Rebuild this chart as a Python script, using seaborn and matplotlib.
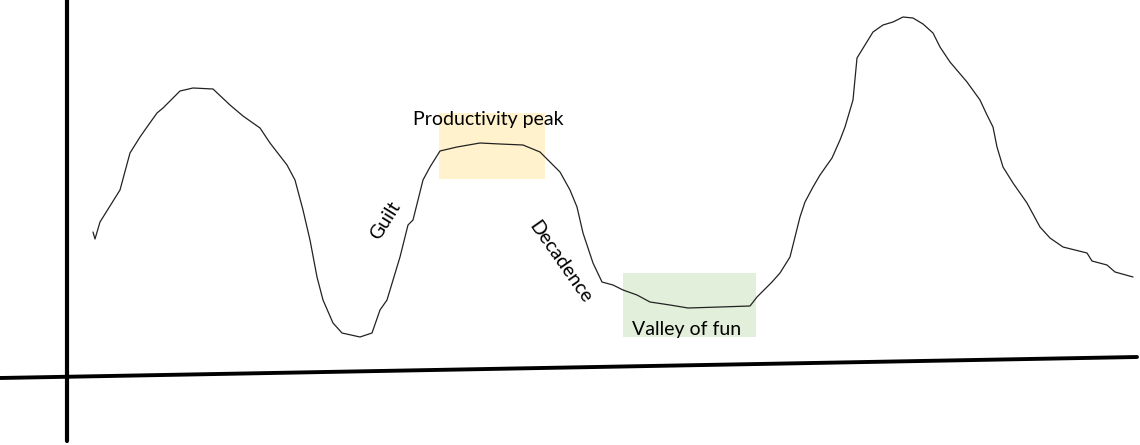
"""Hand-drawn style 'productivity cycle' sketch, redrawn with seaborn."""

import matplotlib

matplotlib.use("Agg")

import matplotlib.pyplot as plt  # noqa: E402
import pandas as pd  # noqa: E402
import seaborn as sns  # noqa: E402
from matplotlib.patches import Rectangle  # noqa: E402

# --- Data (in pixel space, y grows downward) -------------------------------

curve_x = [
    93, 95, 100, 120, 130, 140, 147, 157, 163, 180, 193, 213, 230, 243, 260,
    270, 287, 295, 303, 310, 317, 323, 333, 342, 360, 372, 380, 387, 400, 408,
    413, 418, 423, 430, 440, 457, 480, 500, 523, 540, 560, 570, 577, 583, 593,
    602, 613, 623, 637, 650, 670, 688, 720, 750, 757, 772, 780, 790, 795, 800,
    805, 813, 820, 832, 840, 845, 853, 857, 873, 883, 893, 903, 913, 923, 933,
    940, 950, 967, 980, 987, 993, 997, 1003, 1013, 1027, 1040, 1050, 1063,
    1087, 1092, 1107, 1115, 1133,
]
curve_y = [
    232, 239, 222, 190, 153, 137, 127, 113, 108, 91, 88, 89, 105, 116, 128,
    143, 165, 180, 210, 240, 277, 300, 323, 333, 337, 333, 310, 300, 257, 225,
    220, 200, 180, 167, 151, 147, 143, 144, 145, 152, 172, 190, 207, 233, 263,
    282, 285, 290, 295, 302, 305, 308, 307, 306, 297, 282, 273, 257, 237, 217,
    202, 187, 175, 158, 140, 127, 100, 58, 32, 25, 22, 17, 18, 24, 33,
    47, 62, 82, 100, 115, 127, 147, 167, 183, 203, 227, 238, 247,
    253, 261, 265, 272, 277,
]

# hand-drawn axes of the sketch
x_axis_x = [0, 1137]
x_axis_y = [378, 357]
y_axis_x = [67, 67]
y_axis_y = [0, 441]

# highlighted regions: (left, top, right, bottom)
peak_box = (439, 113, 545, 179)
valley_box = (623, 273, 756, 337)

labels = ["Productivity peak", "Guilt", "Decadence", "Valley of fun"]

# --- Plot -----------------------------------------------------------------

sns.set_theme(style="white")
plt.rcParams["font.family"] = ["Lato", "DejaVu Sans"]

fig = plt.figure(figsize=(11.4, 4.45), dpi=100)
ax = fig.add_axes([0, 0, 1, 1])
ax.set_xlim(0, 1140)
ax.set_ylim(445, 0)
ax.axis("off")

peak_color = "#fff2cc"
valley_color = "#e2efda"
for (l, t, r, b), color in [(peak_box, peak_color), (valley_box, valley_color)]:
    ax.add_patch(Rectangle((l, t), r - l, b - t, facecolor=color,
                           edgecolor="none", zorder=1))

curve = pd.DataFrame({"x": curve_x, "y": curve_y})
sns.lineplot(data=curve, x="x", y="y", sort=False, estimator=None,
             color="#222222", linewidth=0.9, ax=ax, zorder=3)

sns.lineplot(x=x_axis_x, y=x_axis_y, sort=False, estimator=None,
             color="black", linewidth=2.8, ax=ax, zorder=4)
sns.lineplot(x=y_axis_x, y=y_axis_y, sort=False, estimator=None,
             color="black", linewidth=3.0, ax=ax, zorder=4)

text_kw = dict(color="black", fontsize=14, ha="center", va="center", zorder=5)
ax.text(488, 120, labels[0], **text_kw)
ax.text(385, 221, labels[1], rotation=58, **text_kw)
ax.text(560, 262, labels[2], rotation=-55, **text_kw)
ax.text(687, 329, labels[3], **text_kw)

ax.set_xlabel("")
ax.set_ylabel("")

fig.savefig("out.png", dpi=100)
plt.close(fig)
